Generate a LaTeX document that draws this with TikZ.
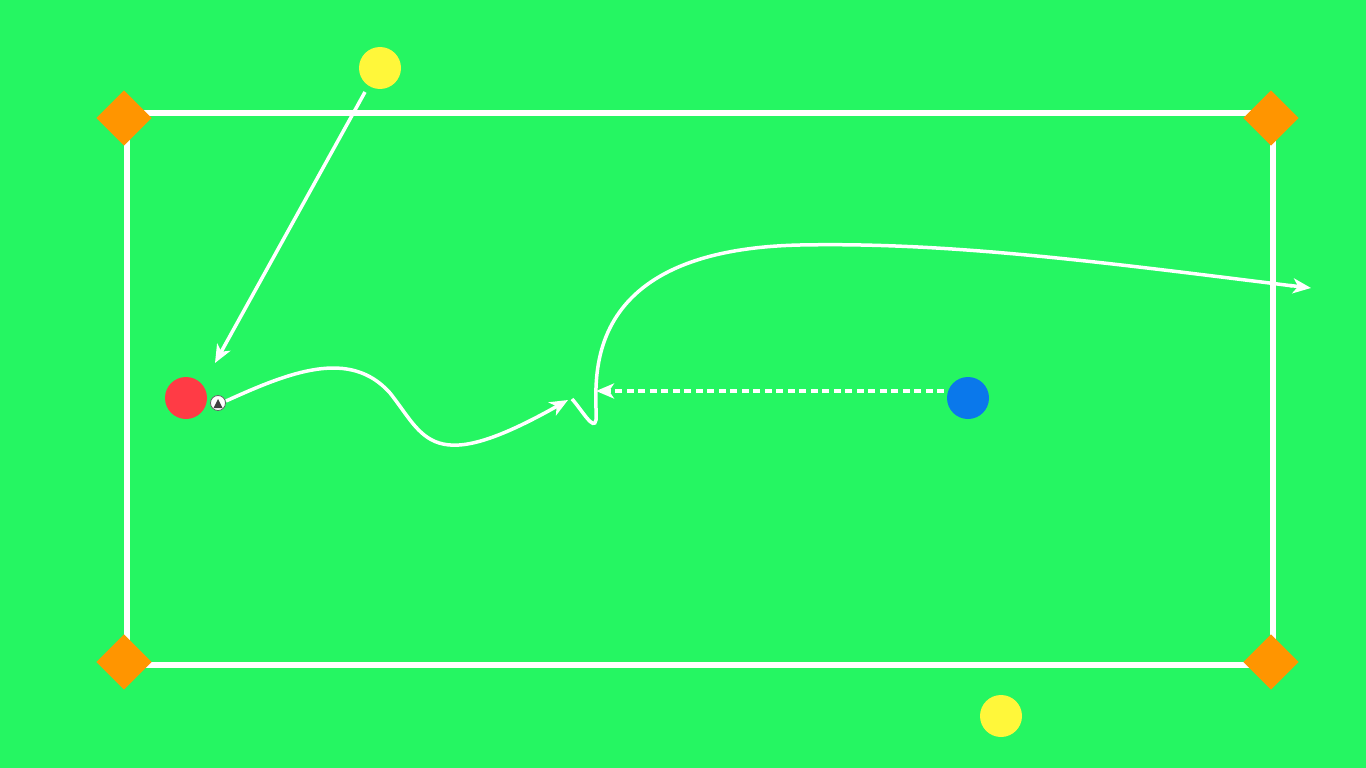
\documentclass[tikz,border=0pt]{standalone}
\usetikzlibrary{arrows.meta}
\definecolor{grass}{HTML}{25F662}
\definecolor{cone}{HTML}{FF9500}
\definecolor{ply}{HTML}{FFF73A}
\definecolor{redp}{HTML}{FF3B45}
\definecolor{bluep}{HTML}{0A78EB}
\begin{document}
\begin{tikzpicture}[x=1pt,y=-1pt,
  conest/.style={fill=cone,draw=none,minimum size=39pt,inner sep=0pt,rotate=45,shape=rectangle},
  playerst/.style={circle,draw=none,minimum size=42pt,inner sep=0pt},
  tip/.style={-{Stealth[length=18pt,width=15pt,inset=5pt]}},
  run/.style={white,line width=3.5pt,tip},
  pass/.style={white,line width=3.5pt,dash pattern=on 7pt off 4.5pt,tip}]
\fill[grass] (0,0) rectangle (1366,768);
\useasboundingbox (0,0) rectangle (1366,768);
\draw[white,line width=6pt] (127,113) rectangle (1273,665);
\node[conest] (c1) at (124,118) {};
\node[conest] (c2) at (1271,118) {};
\node[conest] (c3) at (124,662) {};
\node[conest] (c4) at (1271,662) {};
\node[playerst,fill=ply] (y1) at (380,68) {};
\node[playerst,fill=ply] (y2) at (1001,716) {};
\node[playerst,fill=redp] (r) at (186,398) {};
\node[playerst,fill=bluep] (b) at (968,398) {};
\node[circle,fill=white,draw=black!60,line width=0.8pt,minimum size=15pt,inner sep=0pt] (ball) at (218,403) {};
\fill[black!75] (213.5,408) -- (218,399) -- (222.5,408) -- cycle;
\coordinate (a1) at (215,363);
\coordinate (w1) at (568,400);
\coordinate (w2) at (1311,288);
\coordinate (p1) at (596,391);
\draw[run] (365,92) -- (a1);
\draw[run] (226,401) .. controls (290,372) and (350,348) .. (390,393)
  .. controls (425,437) and (430,478) .. (w1);
\draw[run,-] (572,399) .. controls (582,410) and (594,432) .. (596,420)
  .. controls (598,390) and (570,250) .. (800,245)
  .. controls (950,242) and (1100,262) .. (1292,285.8);
\draw[run] (1290,285.5) -- (w2);
\draw[pass] (944,391) -- (p1);
\end{tikzpicture}
\end{document}
